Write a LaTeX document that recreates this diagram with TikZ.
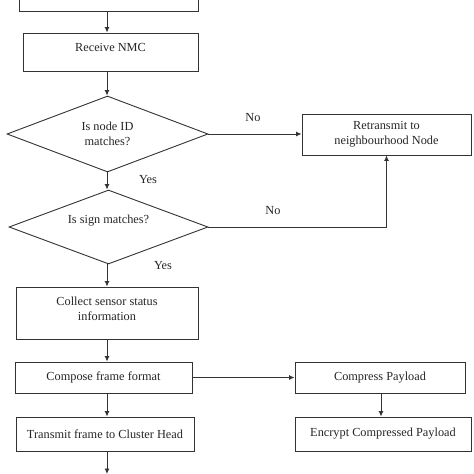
\documentclass[tikz,border=0pt]{standalone}
\usepackage{fontspec}
\setmainfont{Liberation Serif}
\usetikzlibrary{shapes.geometric,arrows.meta}
\begin{document}
\begin{tikzpicture}[x=1pt,y=-1pt,
  every node/.style={font=\fontsize{12.3}{15.5}\selectfont, text=black!85},
  box/.style={draw=black!80, line width=0.9pt, rectangle, inner sep=0pt, align=center},
  dec/.style={draw=black!80, line width=0.9pt, diamond, aspect=2.6, inner sep=0pt, align=center},
  lbl/.style={inner sep=0pt},
  arr/.style={draw=black!80, line width=0.9pt, -{Latex[length=5.5pt,width=5pt]}}
]
\clip (0,0) rectangle (474,474);
\fill[white] (0,0) rectangle (474,474);
\coordinate (ax) at (107,0);
\coordinate (ax2) at (381,0);
\node[box, minimum width=179pt, minimum height=40pt] (top) at (108.5,-9) {};
\node[box, minimum width=175pt, minimum height=38pt, text height=9pt, text depth=11pt] (recv) at (110.5,52) {Receive NMC};
\node[dec, minimum width=201pt, minimum height=76pt] (d1) at (107.5,134) {Is node ID\\matches?};
\node[dec, minimum width=199pt, minimum height=74pt, text height=5pt, text depth=13pt] (d2) at (108.5,227) {Is sign matches?};
\node[box, minimum width=169pt, minimum height=41pt] (retx) at (386.5,134.5) {Retransmit to\\neighbourhood Node};
\node[box, minimum width=182pt, minimum height=52pt] (coll) at (107,313) {Collect sensor status\\information\\[-6.5pt]};
\node[box, minimum width=177pt, minimum height=31pt] (comp) at (103.5,377.5) {Compose frame format};
\node[box, minimum width=178pt, minimum height=34pt] (tx) at (105,434) {Transmit frame to Cluster Head};
\node[box, minimum width=170pt, minimum height=31pt] (cmp) at (380,377.5) {Compress Payload};
\node[box, minimum width=176pt, minimum height=34pt] (enc) at (383,434) {Encrypt Compressed Payload};
\coordinate (end) at (107,474);

\node[lbl] (no1) at (253,118) {No};
\node[lbl] (no2) at (273,211) {No};
\node[lbl] (yes1) at (148,180) {Yes};
\node[lbl] (yes2) at (163,266) {Yes};

\draw[arr] (top.south -| ax) -- (recv.north -| ax);
\draw[arr] (recv.south -| ax) -- (d1.north -| ax);
\draw[arr] (d1.east) -- (d1.east -| retx.west);
\draw[arr] (d1.south -| ax) -- (d2.north -| ax);
\draw[arr] (d2.east) -| (retx.south);
\draw[arr] (d2.south -| ax) -- (coll.north -| ax);
\draw[arr] (coll.south -| ax) -- (comp.north -| ax);
\draw[arr] (comp.east) -- (cmp.west);
\draw[arr] (comp.south -| ax) -- (tx.north -| ax);
\draw[arr] (cmp.south -| ax2) -- (enc.north -| ax2);
\draw[arr] (tx.south -| ax) -- (end);
\end{tikzpicture}
\end{document}
